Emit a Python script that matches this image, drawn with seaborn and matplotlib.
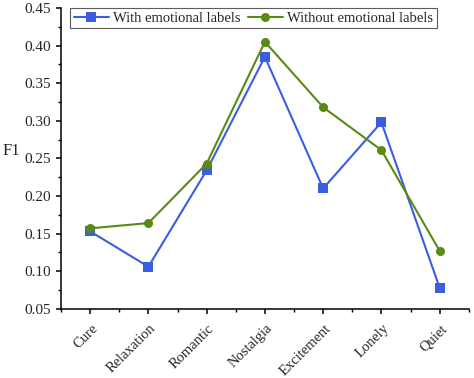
import pandas as pd
import seaborn as sns
import matplotlib.pyplot as plt
import matplotlib.transforms as mtransforms
from matplotlib.ticker import MultipleLocator, AutoMinorLocator

categories = ['Cure', 'Relaxation', 'Romantic', 'Nostalgia', 'Excitement', 'Lonely', 'Quiet']
with_labels = [0.153, 0.106, 0.234, 0.385, 0.210, 0.298, 0.078]
without_labels = [0.157, 0.164, 0.243, 0.405, 0.318, 0.261, 0.127]

sns.set_style('ticks')
plt.rcParams['font.family'] = ['Liberation Serif', 'DejaVu Serif']

df = pd.DataFrame({
    'Emotion': categories * 2,
    'F1': with_labels + without_labels,
    'Series': ['With emotional labels'] * 7 + ['Without emotional labels'] * 7,
})
df['x'] = list(range(7)) * 2

fig = plt.figure(figsize=(4.74, 3.78), dpi=100)
ax = fig.add_axes([0.1287, 0.183, 0.8603, 0.796])

sns.lineplot(data=df, x='x', y='F1', hue='Series', style='Series',
             markers={'With emotional labels': 's', 'Without emotional labels': 'o'},
             dashes=False, palette=['#3b5ee0', '#5a8a14'],
             markersize=6.5, linewidth=1.5, markeredgewidth=0, ax=ax)

ax.set_xlim(-0.5, 6.5)
ax.set_ylim(0.05, 0.45)
ax.set_xticks(range(7))
ax.set_xticklabels(categories, rotation=45, ha='right', va='top', fontsize=10.5)
ax.xaxis.set_minor_locator(MultipleLocator(0.5))
ax.yaxis.set_major_locator(MultipleLocator(0.05))
ax.yaxis.set_minor_locator(AutoMinorLocator(2))
ax.yaxis.set_major_formatter(plt.FormatStrFormatter('%.2f'))
ax.tick_params(axis='y', labelsize=11, pad=3.5)
ax.tick_params(axis='x', pad=6)
ax.tick_params(which='major', direction='out', length=3.5, width=1.1, color='black')
ax.tick_params(which='minor', direction='out', length=2, width=1.0, color='black')
ax.set_xlabel('')
ax.set_ylabel('F1', fontsize=12, rotation=0)
ax.yaxis.set_label_coords(-0.123, 0.523)
ax.yaxis.label.set_verticalalignment('center')

for s in ['left', 'bottom']:
    ax.spines[s].set_linewidth(1.1)
    ax.spines[s].set_color('black')
sns.despine(ax=ax)

leg = ax.legend(loc='upper left', bbox_to_anchor=(0.022, 1.0), ncol=2, fontsize=10.5,
                frameon=True, fancybox=False, edgecolor='#333333', borderpad=0.25,
                handlelength=2.4, handletextpad=0.3, columnspacing=0.5, borderaxespad=0.0)
leg.get_frame().set_linewidth(0.8)

# shift rotated labels a bit to the right of their ticks
fig.canvas.draw()
offset = mtransforms.ScaledTranslation(0.10, 0, fig.dpi_scale_trans)
for tick in ax.xaxis.get_major_ticks():
    tick.label1.set_transform(tick.label1.get_transform() + offset)

fig.savefig('out.png', dpi=100)
